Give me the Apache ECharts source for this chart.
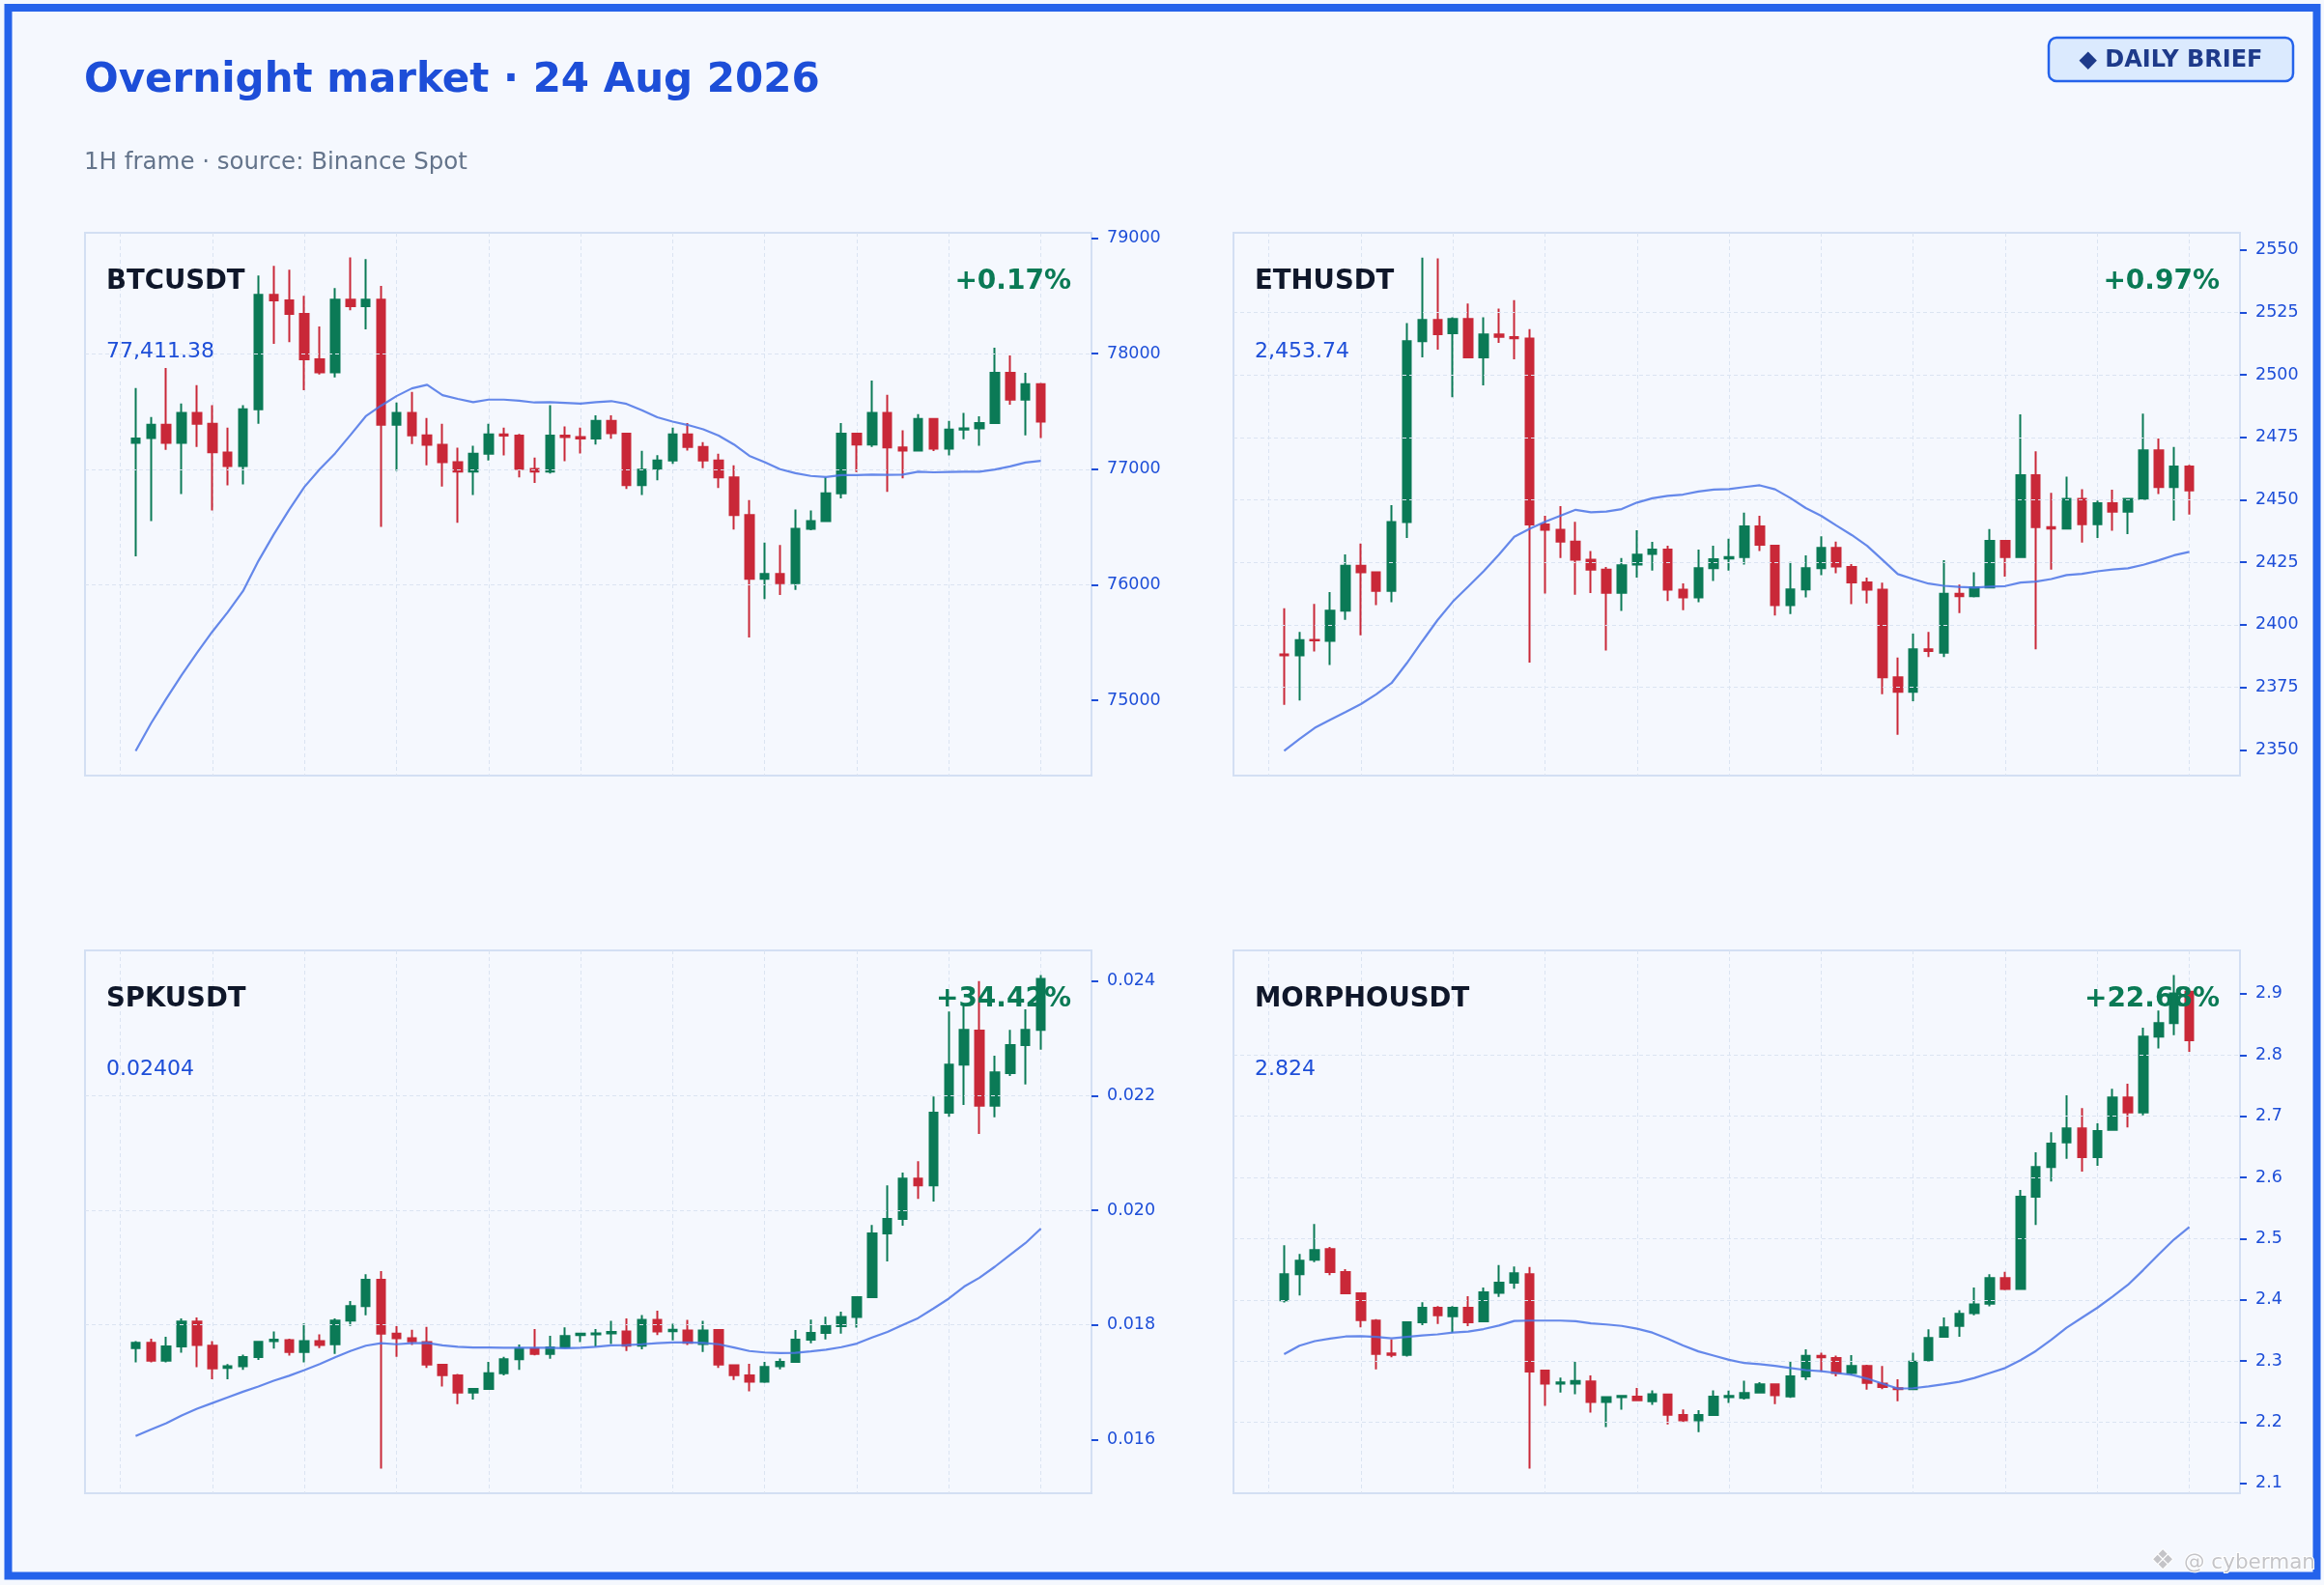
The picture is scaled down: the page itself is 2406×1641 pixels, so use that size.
<!DOCTYPE html>
<html>
<head>
<meta charset="utf-8">
<script src="https://cdn.jsdelivr.net/npm/echarts@6/dist/echarts.min.js"></script>
<style>
  html, body { margin: 0; padding: 0; background: #f5f8fe; }
  #chart { width: 2406px; height: 1641px; }
</style>
</head>
<body>
<div id="chart"></div>
<script>
// hourly candles, each row [open, close, low, high]
const btcOHLC = [
  [77229, 77266, 76246, 77702], [77269, 77385, 76551, 77452], [77385, 77229, 77168, 77876], [77229, 77486, 76786, 77568],
  [77486, 77394, 77192, 77727], [77394, 77147, 76643, 77553], [77144, 77027, 76860, 77360], [77027, 77519, 76869, 77553],
  [77519, 78508, 77394, 78676], [78508, 78460, 78084, 78759], [78460, 78344, 78099, 78725], [78344, 77950, 77684, 78499],
  [77950, 77837, 77818, 78234], [77837, 78466, 77794, 78566], [78466, 78411, 78374, 78832], [78411, 78466, 78209, 78817],
  [78466, 77385, 76502, 78585], [77385, 77486, 76985, 77577], [77486, 77293, 77217, 77669], [77293, 77211, 77034, 77443],
  [77211, 77061, 76850, 77394], [77061, 76979, 76536, 77186], [76979, 77134, 76777, 77202], [77134, 77302, 77076, 77394],
  [77302, 77290, 77119, 77360], [77290, 77003, 76930, 77305], [77003, 76979, 76881, 77101], [76979, 77290, 76963, 77553],
  [77290, 77278, 77070, 77369], [77278, 77266, 77137, 77360], [77266, 77418, 77214, 77467], [77418, 77311, 77263, 77467],
  [77308, 76863, 76829, 77312], [76863, 76997, 76777, 77159], [77003, 77076, 76905, 77122], [77076, 77302, 77046, 77360],
  [77302, 77192, 77162, 77400], [77192, 77076, 77009, 77235], [77076, 76930, 76838, 77134], [76930, 76603, 76478, 77034],
  [76603, 76053, 75544, 76734], [76053, 76093, 75876, 76365], [76093, 76014, 75913, 76344], [76014, 76484, 75956, 76652],
  [76484, 76551, 76472, 76643], [76551, 76792, 76549, 76930], [76792, 77308, 76747, 77400], [77308, 77214, 76976, 77312],
  [77214, 77486, 77192, 77766], [77486, 77189, 76805, 77644], [77189, 77162, 76921, 77336], [77162, 77434, 77156, 77476],
  [77434, 77177, 77156, 77443], [77177, 77342, 77119, 77418], [77342, 77354, 77260, 77486], [77354, 77400, 77202, 77458],
  [77400, 77834, 77400, 78050], [77834, 77602, 77559, 77983], [77602, 77736, 77293, 77834], [77736, 77411.38, 77269, 77745]
];
const btcMA = [
  74563, 74801, 75015, 75220, 75412, 75595, 75763, 75946, 76206, 76435, 76649, 76847, 77000, 77137, 77296,
  77458, 77550, 77632, 77699, 77730, 77641, 77608, 77580, 77602, 77602, 77592, 77577, 77580, 77574, 77568,
  77580, 77589, 77565, 77510, 77449, 77412, 77382, 77345, 77290, 77214, 77116, 77061, 77000, 76966, 76942,
  76933, 76949, 76949, 76954, 76951, 76954, 76979, 76973, 76976, 76979, 76979, 76997, 77024, 77058, 77073
];
const btcTicks = [75000, 76000, 77000, 78000, 79000];

const ethOHLC = [
  [2388.2, 2387.8, 2368.0, 2406.6], [2387.8, 2393.9, 2369.7, 2397.2], [2394.0, 2393.8, 2389.3, 2408.4], [2393.6, 2405.7, 2383.9, 2413.1],
  [2405.7, 2423.6, 2402.0, 2428.2], [2423.6, 2421.0, 2395.8, 2432.5], [2421.0, 2413.6, 2407.9, 2421.0], [2413.6, 2441.1, 2409.0, 2447.9],
  [2441.1, 2513.4, 2434.7, 2520.7], [2513.4, 2521.9, 2507.0, 2546.9], [2521.9, 2516.2, 2510.1, 2546.6], [2516.6, 2522.3, 2491.0, 2523.0],
  [2522.3, 2507.0, 2507.0, 2528.5], [2507.0, 2516.1, 2495.8, 2523.0], [2516.1, 2515.2, 2512.8, 2526.5], [2515.1, 2514.6, 2506.2, 2529.9],
  [2514.5, 2440.1, 2384.9, 2518.3], [2440.1, 2438.0, 2412.5, 2443.6], [2438.0, 2433.3, 2426.7, 2447.5], [2433.3, 2426.0, 2412.0, 2441.2],
  [2426.0, 2422.1, 2412.7, 2429.5], [2422.1, 2412.8, 2389.7, 2423.1], [2412.8, 2423.8, 2405.6, 2426.7], [2424.1, 2428.1, 2418.9, 2437.8],
  [2428.4, 2430.1, 2421.7, 2433.2], [2430.1, 2414.1, 2409.5, 2431.6], [2414.1, 2411.0, 2405.9, 2416.6], [2411.0, 2422.7, 2409.0, 2430.1],
  [2422.7, 2426.2, 2417.5, 2431.6], [2426.5, 2427.1, 2421.7, 2434.4], [2427.1, 2439.4, 2424.1, 2444.9], [2439.4, 2432.0, 2429.5, 2443.6],
  [2431.6, 2407.9, 2403.7, 2432.0], [2407.9, 2414.2, 2404.3, 2425.2], [2414.2, 2422.7, 2411.0, 2427.8], [2422.7, 2430.8, 2419.9, 2435.4],
  [2430.8, 2423.3, 2420.6, 2433.3], [2423.1, 2417.0, 2408.3, 2424.3], [2417.0, 2414.1, 2408.6, 2418.9], [2414.1, 2379.0, 2372.2, 2416.9],
  [2379.0, 2373.2, 2356.0, 2386.9], [2373.2, 2390.2, 2369.4, 2396.5], [2390.2, 2389.5, 2387.1, 2397.2], [2388.9, 2412.4, 2387.1, 2425.8],
  [2412.4, 2411.5, 2404.7, 2416.1], [2411.5, 2414.9, 2411.0, 2421.0], [2414.9, 2433.6, 2414.6, 2438.3], [2433.6, 2427.1, 2419.3, 2433.6],
  [2427.1, 2459.8, 2427.1, 2484.2], [2459.8, 2439.1, 2390.2, 2469.4], [2439.1, 2438.5, 2422.1, 2452.8], [2438.5, 2450.4, 2438.5, 2459.3],
  [2450.4, 2440.2, 2432.9, 2454.2], [2440.2, 2448.6, 2434.7, 2449.7], [2448.6, 2445.3, 2437.6, 2454.0], [2445.3, 2450.4, 2436.3, 2450.6],
  [2450.4, 2469.8, 2450.4, 2484.5], [2469.8, 2455.1, 2452.3, 2474.5], [2455.1, 2463.3, 2441.7, 2471.1], [2463.3, 2453.74, 2444.1, 2464.0]
];
const ethMA = [
  2349.6, 2354.3, 2358.8, 2362.0, 2365.1, 2368.3, 2372.2, 2376.7, 2384.7, 2393.4, 2401.9, 2409.3, 2415.3, 2421.4, 2428.1,
  2435.2, 2438.4, 2441.2, 2443.6, 2446.0, 2445.0, 2445.3, 2446.3, 2448.9, 2450.6, 2451.6, 2452.1, 2453.3, 2454.1, 2454.3,
  2455.1, 2455.8, 2454.2, 2450.7, 2446.7, 2443.6, 2439.7, 2435.9, 2431.6, 2426.0, 2420.3, 2418.3, 2416.5, 2415.6, 2415.2,
  2414.9, 2415.3, 2415.5, 2416.9, 2417.3, 2418.3, 2419.9, 2420.4, 2421.4, 2422.1, 2422.6, 2424.0, 2425.8, 2427.8, 2429.2
];
const ethTicks = [2350, 2375, 2400, 2425, 2450, 2475, 2500, 2525, 2550];

const spkOHLC = [
  [0.017593, 0.017686, 0.017346, 0.017717], [0.017686, 0.017377, 0.017346, 0.017761], [0.017377, 0.017625, 0.017346, 0.017791], [0.017625, 0.018057, 0.017513, 0.018113],
  [0.018057, 0.017649, 0.017260, 0.018131], [0.017637, 0.017242, 0.017050, 0.017717], [0.017248, 0.017279, 0.017050, 0.017316], [0.017279, 0.017439, 0.017217, 0.017483],
  [0.017439, 0.017705, 0.017390, 0.017717], [0.017717, 0.017742, 0.017587, 0.017884], [0.017736, 0.017526, 0.017464, 0.017761], [0.017526, 0.017717, 0.017346, 0.018026],
  [0.017717, 0.017649, 0.017593, 0.017835], [0.017662, 0.018076, 0.017495, 0.018113], [0.018076, 0.018329, 0.017983, 0.018415], [0.018329, 0.018786, 0.018168, 0.018885],
  [0.018786, 0.017847, 0.015493, 0.018940], [0.017847, 0.017767, 0.017445, 0.017977], [0.017767, 0.017711, 0.017649, 0.017915], [0.017699, 0.017309, 0.017248, 0.017964],
  [0.017303, 0.017124, 0.016926, 0.017322], [0.017118, 0.016821, 0.016618, 0.017143], [0.016821, 0.016883, 0.016698, 0.016883], [0.016883, 0.017155, 0.016877, 0.017353],
  [0.017155, 0.017402, 0.017118, 0.017445], [0.017402, 0.017587, 0.017217, 0.017656], [0.017587, 0.017495, 0.017470, 0.017927], [0.017495, 0.017606, 0.017408, 0.017810],
  [0.017606, 0.017804, 0.017606, 0.017958], [0.017822, 0.017847, 0.017699, 0.017866], [0.017835, 0.017853, 0.017625, 0.017927], [0.017853, 0.017878, 0.017668, 0.018070],
  [0.017884, 0.017637, 0.017544, 0.018113], [0.017637, 0.018088, 0.017575, 0.018174], [0.018088, 0.017884, 0.017822, 0.018249], [0.017890, 0.017915, 0.017730, 0.018020],
  [0.017903, 0.017686, 0.017649, 0.018088], [0.017668, 0.017903, 0.017526, 0.018070], [0.017909, 0.017309, 0.017248, 0.017927], [0.017297, 0.017124, 0.017038, 0.017309],
  [0.017118, 0.017007, 0.016840, 0.017322], [0.017007, 0.017266, 0.016988, 0.017353], [0.017279, 0.017353, 0.017223, 0.017415], [0.017353, 0.017742, 0.017340, 0.017909],
  [0.017742, 0.017860, 0.017680, 0.018094], [0.017860, 0.017977, 0.017748, 0.018143], [0.017977, 0.018137, 0.017847, 0.018230], [0.018137, 0.018483, 0.017952, 0.018483],
  [0.018483, 0.019595, 0.018471, 0.019744], [0.019595, 0.019849, 0.019107, 0.020436], [0.019849, 0.020553, 0.019731, 0.020658], [0.020553, 0.020436, 0.020201, 0.020856],
  [0.020436, 0.021702, 0.020151, 0.021986], [0.021702, 0.022542, 0.021634, 0.023469], [0.022542, 0.023148, 0.021838, 0.023600], [0.023135, 0.021826, 0.021331, 0.024000],
  [0.021826, 0.022406, 0.021622, 0.022697], [0.022394, 0.022882, 0.022345, 0.023148], [0.022882, 0.023148, 0.022196, 0.023506], [0.023148, 0.024040, 0.022802, 0.024105]
];
const spkMA = [
  0.016062, 0.016173, 0.016284, 0.016420, 0.016537, 0.016636, 0.016735, 0.016834, 0.016926, 0.017025, 0.017112, 0.017211, 0.017316, 0.017433, 0.017544,
  0.017637, 0.017680, 0.017662, 0.017680, 0.017686, 0.017643, 0.017618, 0.017606, 0.017606, 0.017600, 0.017600, 0.017600, 0.017600, 0.017594, 0.017600,
  0.017618, 0.017643, 0.017649, 0.017662, 0.017680, 0.017693, 0.017693, 0.017686, 0.017662, 0.017606, 0.017544, 0.017519, 0.017507, 0.017513, 0.017538,
  0.017568, 0.017612, 0.017674, 0.017779, 0.017878, 0.018001, 0.018119, 0.018286, 0.018459, 0.018669, 0.018823, 0.019015, 0.019225, 0.019429, 0.019682
];
const spkTicks = [0.016, 0.018, 0.020, 0.022, 0.024];

const morphoOHLC = [
  [2.3991, 2.4419, 2.3956, 2.4893], [2.4419, 2.4639, 2.4072, 2.4749], [2.4656, 2.4812, 2.4616, 2.5240], [2.4830, 2.4454, 2.4403, 2.4864],
  [2.4454, 2.4107, 2.4089, 2.4500], [2.4107, 2.3667, 2.3551, 2.4124], [2.3661, 2.3118, 2.2863, 2.3684], [2.3123, 2.3100, 2.3060, 2.3355],
  [2.3100, 2.3632, 2.3072, 2.3650], [2.3632, 2.3870, 2.3586, 2.3962], [2.3870, 2.3748, 2.3604, 2.3898], [2.3731, 2.3870, 2.3465, 2.3898],
  [2.3870, 2.3632, 2.3570, 2.4060], [2.3650, 2.4124, 2.3632, 2.4200], [2.4113, 2.4280, 2.4049, 2.4569], [2.4280, 2.4436, 2.4182, 2.4546],
  [2.4419, 2.2829, 2.1243, 2.4535], [2.2846, 2.2632, 2.2267, 2.2846], [2.2632, 2.2650, 2.2487, 2.2731], [2.2632, 2.2673, 2.2458, 2.2985],
  [2.2667, 2.2331, 2.2158, 2.2765], [2.2331, 2.2412, 2.1920, 2.2412], [2.2412, 2.2429, 2.2204, 2.2435], [2.2418, 2.2360, 2.2342, 2.2562],
  [2.2342, 2.2458, 2.2285, 2.2522], [2.2452, 2.2123, 2.1966, 2.2452], [2.2117, 2.2030, 2.2001, 2.2209], [2.2030, 2.2117, 2.1839, 2.2198],
  [2.2117, 2.2418, 2.2117, 2.2522], [2.2412, 2.2429, 2.2314, 2.2516], [2.2400, 2.2476, 2.2371, 2.2679], [2.2487, 2.2620, 2.2487, 2.2656],
  [2.2620, 2.2441, 2.2296, 2.2620], [2.2424, 2.2748, 2.2400, 2.3002], [2.2748, 2.3083, 2.2690, 2.3193], [2.3083, 2.3060, 2.2829, 2.3137],
  [2.3048, 2.2805, 2.2748, 2.3089], [2.2805, 2.2921, 2.2770, 2.3095], [2.2921, 2.2644, 2.2533, 2.2939], [2.2632, 2.2574, 2.2539, 2.2921],
  [2.2556, 2.2539, 2.2342, 2.2702], [2.2539, 2.2990, 2.2539, 2.3135], [2.3008, 2.3378, 2.3008, 2.3517], [2.3395, 2.3551, 2.3384, 2.3713],
  [2.3574, 2.3771, 2.3395, 2.3829], [2.3783, 2.3927, 2.3748, 2.4200], [2.3939, 2.4355, 2.3892, 2.4419], [2.4355, 2.4176, 2.4159, 2.4459],
  [2.4176, 2.5686, 2.4176, 2.5796], [2.5686, 2.6172, 2.5223, 2.6409], [2.6172, 2.6553, 2.5934, 2.6738], [2.6571, 2.6802, 2.6305, 2.7340],
  [2.6802, 2.6333, 2.6096, 2.7132], [2.6333, 2.6756, 2.6189, 2.6883], [2.6779, 2.7305, 2.6767, 2.7450], [2.7305, 2.7062, 2.6819, 2.7531],
  [2.7062, 2.8300, 2.7016, 2.8445], [2.8300, 2.8520, 2.8109, 2.8728], [2.8520, 2.9006, 2.8323, 2.9306], [2.9035, 2.8240, 2.8051, 2.9040]
];
const morphoMA = [
  2.3112, 2.3251, 2.3326, 2.3366, 2.3401, 2.3407, 2.3395, 2.3372, 2.3395, 2.3418, 2.3436, 2.3465, 2.3482, 2.3522, 2.3580,
  2.3655, 2.3661, 2.3661, 2.3661, 2.3650, 2.3615, 2.3598, 2.3574, 2.3528, 2.3465, 2.3366, 2.3256, 2.3158, 2.3089, 2.3019,
  2.2967, 2.2950, 2.2921, 2.2886, 2.2852, 2.2834, 2.2805, 2.2776, 2.2713, 2.2632, 2.2550, 2.2556, 2.2585, 2.2620, 2.2660,
  2.2724, 2.2805, 2.2886, 2.3013, 2.3164, 2.3349, 2.3545, 2.3708, 2.3870, 2.4055, 2.4246, 2.4488, 2.4743, 2.4986, 2.5188
];
const morphoTicks = [2.1, 2.2, 2.3, 2.4, 2.5, 2.6, 2.7, 2.8, 2.9];

const symbols = ['BTCUSDT', 'ETHUSDT', 'SPKUSDT', 'MORPHOUSDT'];
const lastPrices = ['77,411.38', '2,453.74', '0.02404', '2.824'];
const changes = ['+0.17%', '+0.97%', '+34.42%', '+22.68%'];

const FONT = '"DejaVu Sans", sans-serif';
const GREEN = '#0b7a56';
const RED = '#c92838';
const BLUE = '#1d4ed8';
const GRID_LINE = { color: '#dbe4f2', type: [4, 3], width: 1 };

const panels = [
  { ohlc: btcOHLC, ma: btcMA, ticks: btcTicks, min: 74350, max: 79045, step: 1000, fmt: v => String(v), left: 88, top: 241 },
  { ohlc: ethOHLC, ma: ethMA, ticks: ethTicks, min: 2339.7, max: 2556.8, step: 25, fmt: v => String(v), left: 1277, top: 241 },
  { ohlc: spkOHLC, ma: spkMA, ticks: spkTicks, min: 0.015062, max: 0.024536, step: 0.002, fmt: v => v.toFixed(3), left: 88, top: 984 },
  { ohlc: morphoOHLC, ma: morphoMA, ticks: morphoTicks, min: 2.0840, max: 2.9709, step: 0.1, fmt: v => v.toFixed(1), left: 1277, top: 984 }
];
const PW = 1042, PH = 562;

const grids = [], xAxes = [], yAxes = [], series = [];
const graphics = [
  { type: 'rect', shape: { x: 8.5, y: 8, width: 2390, height: 1623.5 },
    style: { fill: 'none', stroke: '#2563eb', lineWidth: 8 }, z: 20 },
  { type: 'text', x: 87, y: 84.5, z: 20,
    style: { text: 'Overnight market · 24 Aug 2026', font: 'bold 42px ' + FONT, fill: BLUE, verticalAlign: 'middle' } },
  { type: 'text', x: 87, y: 169, z: 20,
    style: { text: '1H frame · source: Binance Spot', font: '24.5px ' + FONT, fill: '#64748b', verticalAlign: 'middle' } },
  { type: 'rect', shape: { x: 2121, y: 39, width: 253, height: 45, r: 8 }, z: 20,
    style: { fill: '#dbeafe', stroke: '#2563eb', lineWidth: 2.5 } },
  { type: 'text', x: 2247.5, y: 63, z: 21,
    style: { text: '◆ DAILY BRIEF', font: 'bold 24px ' + FONT, fill: '#1e3a8a', align: 'center', verticalAlign: 'middle' } },
  { type: 'text', x: 2397, y: 1618, z: 21,
    style: { text: '@ cyberman', font: '21.5px ' + FONT, fill: '#c4c4c8', stroke: '#ffffff', lineWidth: 2,
             align: 'right', verticalAlign: 'middle' } },
  { type: 'text', x: 2239, y: 1617, z: 21,
    style: { text: '❖', font: '27px ' + FONT, fill: '#c4c4c8', stroke: '#ffffff', lineWidth: 2,
             align: 'center', verticalAlign: 'middle' } }
];

panels.forEach((p, k) => {
  grids.push({ left: p.left, top: p.top, width: PW, height: PH, show: true,
    backgroundColor: 'rgba(0,0,0,0)', borderColor: '#d3dff3', borderWidth: 2, outerBoundsMode: 'none' });
  xAxes.push({ type: 'value', gridIndex: k, min: -2.3, max: 63.3, minInterval: 6, maxInterval: 6,
    axisLine: { show: false, onZero: false }, axisTick: { show: false }, axisLabel: { show: false },
    splitLine: { show: true, showMinLine: false, showMaxLine: false, lineStyle: GRID_LINE } });
  yAxes.push({ type: 'value', gridIndex: k, position: 'right', min: p.min, max: p.max,
    minInterval: p.step, maxInterval: p.step, z: 3,
    axisLine: { show: false, onZero: false },
    axisTick: { show: true, length: 7, customValues: p.ticks, lineStyle: { color: BLUE, width: 2 } },
    axisLabel: { color: BLUE, fontSize: 17.5, fontFamily: FONT, margin: 16, customValues: p.ticks, formatter: p.fmt },
    splitLine: { show: true, showMinLine: false, showMaxLine: false, lineStyle: GRID_LINE } });
  series.push({
    type: 'candlestick', xAxisIndex: k, yAxisIndex: k, barWidth: 9, silent: true,
    data: p.ohlc.map((d, i) => [i + 1, d[0], d[1], d[2], d[3]]),
    itemStyle: { color: GREEN, color0: RED, borderColor: GREEN, borderColor0: RED, borderWidth: 2 }
  });
  series.push({
    type: 'line', xAxisIndex: k, yAxisIndex: k, symbol: 'none', silent: true, z: 4,
    data: p.ma.map((v, i) => [i + 1, v]),
    lineStyle: { color: '#4b74e6', width: 2.2, opacity: 0.85 }
  });
  graphics.push(
    { type: 'text', x: p.left + 22, y: p.top + 50.5, z: 10,
      style: { text: symbols[k], font: 'bold 27.5px ' + FONT, fill: '#0f172a', verticalAlign: 'middle' } },
    { type: 'text', x: p.left + 22, y: p.top + 123.5, z: 10,
      style: { text: lastPrices[k], font: '22px ' + FONT, fill: BLUE, verticalAlign: 'middle' } },
    { type: 'text', x: p.left + PW - 21, y: p.top + 50.5, z: 10,
      style: { text: changes[k], font: 'bold 28px ' + FONT, fill: '#0a7a55', align: 'right', verticalAlign: 'middle' } }
  );
});

const chart = echarts.init(document.getElementById('chart'));
chart.setOption({
  backgroundColor: '#f5f8fe',
  animation: false,
  textStyle: { fontFamily: FONT },
  grid: grids,
  xAxis: xAxes,
  yAxis: yAxes,
  series: series,
  graphic: graphics
});
</script>
</body>
</html>
